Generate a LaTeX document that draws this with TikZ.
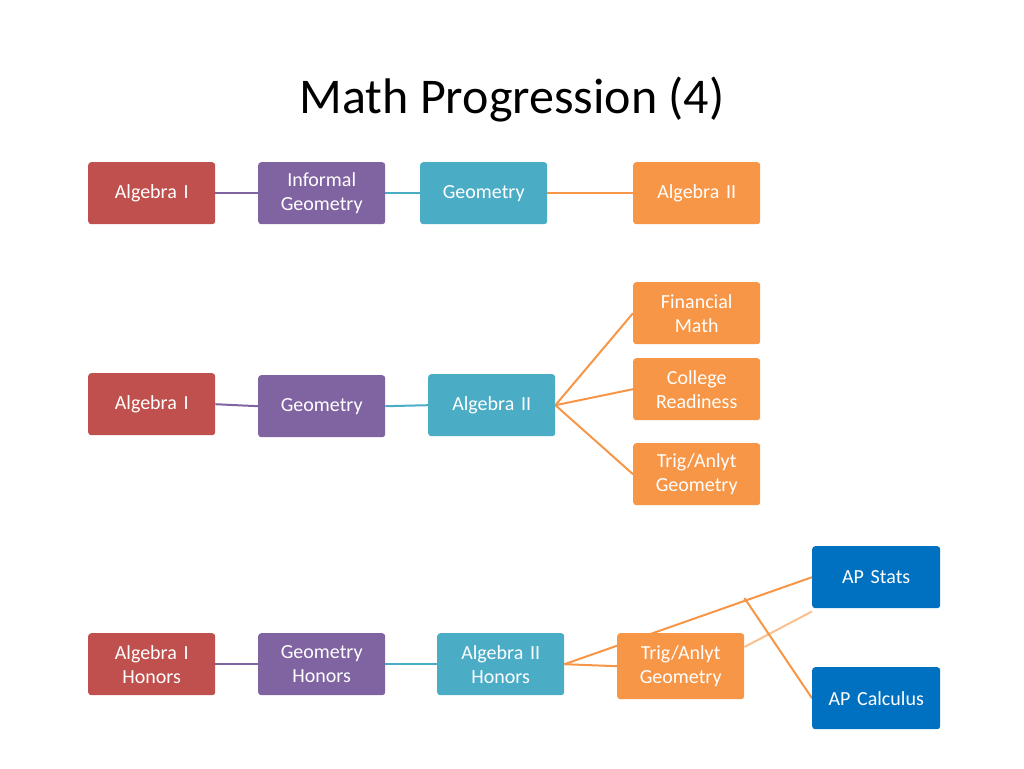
\documentclass[tikz,border=0pt]{standalone}
\usepackage{fontspec}
\setmainfont{Carlito}
\usetikzlibrary{backgrounds}
\definecolor{cred}{HTML}{C0504D}
\definecolor{cpur}{HTML}{8064A2}
\definecolor{cteal}{HTML}{4BACC6}
\definecolor{corg}{HTML}{F79646}
\definecolor{cblue}{HTML}{0070C0}
\definecolor{clight}{HTML}{FAC090}
\begin{document}
\begin{tikzpicture}[x=1pt,y=-1pt,
  box/.style={rounded corners=3pt,minimum width=127pt,minimum height=62pt,text=white,font=\fontsize{20}{24}\selectfont,align=center,inner sep=0pt,anchor=north west,text width=120pt},
  link/.style={line width=2pt}]
\useasboundingbox (0,0) rectangle (1024,768);
\node[font=\fontsize{50}{60}\selectfont] (title) at (512,100) {Math Progression (4)};
% row 1
\node[box,fill=cred] (a1) at (88,162) {Algebra I};
\node[box,fill=cpur] (b1) at (258,162) {Informal\\Geometry};
\node[box,fill=cteal] (c1) at (420,162) {Geometry};
\node[box,fill=corg] (d1) at (633,162) {Algebra II};
% row 2
\node[box,fill=cred] (a2) at (88,373) {Algebra I};
\node[box,fill=cpur] (b2) at (258,375) {Geometry};
\node[box,fill=cteal] (c2) at (428,374) {Algebra II};
\node[box,fill=corg] (f2) at (633,282) {Financial\\Math};
\node[box,fill=corg] (g2) at (633,358) {College\\Readiness};
\node[box,fill=corg] (h2) at (633,443) {Trig/Anlyt\\Geometry};
% row 3
\node[box,fill=cred] (a3) at (88,633) {Algebra I\\Honors};
\node[box,fill=cpur] (b3) at (258,633) {Geometry\\Honors};
\node[box,fill=cteal] (c3) at (437,633) {Algebra II\\Honors};
\node[box,fill=corg,minimum height=66pt] (t3) at (617,633) {Trig/Anlyt\\Geometry};
\node[box,fill=cblue,minimum width=128pt] (s3) at (812,546) {AP Stats};
\node[box,fill=cblue,minimum width=128pt] (p3) at (812,667) {AP Calculus};
\begin{scope}[on background layer]
\draw[link,cpur] (a1.east) -- (b1.west);
\draw[link,cteal] (b1.east) -- (c1.west);
\draw[link,corg] (c1.east) -- (d1.west);
\draw[link,cpur] (a2.east) -- (b2.west);
\draw[link,cteal] (b2.east) -- (c2.west);
\draw[link,corg] (c2.east) -- (f2.west);
\draw[link,corg] (c2.east) -- (g2.west);
\draw[link,corg] (c2.east) -- (h2.west);
\draw[link,cpur] (a3.east) -- (b3.west);
\draw[link,cteal] (b3.east) -- (c3.west);
\draw[link,corg] (c3.east) -- (t3.west);
\draw[link,corg] (c3.east) -- (s3.west);
\draw[link,clight] (t3.north east) ++(0,14) -- ([yshift=-3pt]s3.south west);
\draw[link,corg] ([yshift=35pt]t3.north east) -- (p3.west);
\end{scope}
\end{tikzpicture}
\end{document}
